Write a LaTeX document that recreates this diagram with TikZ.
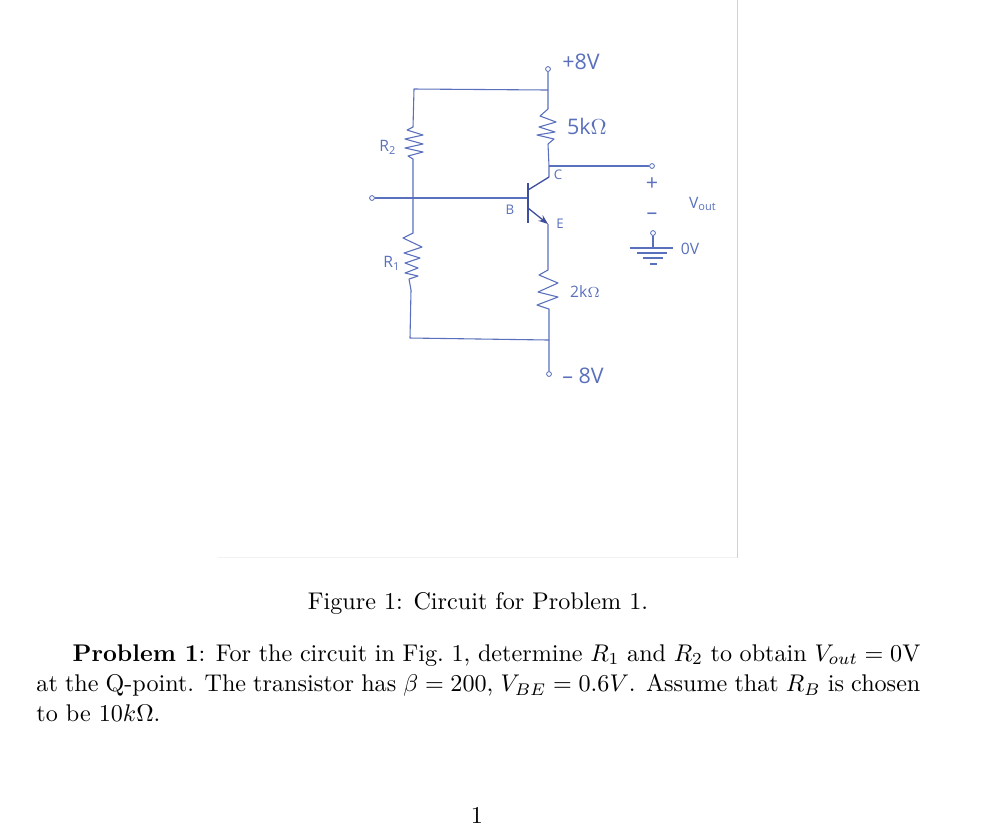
\documentclass[tikz,border=0pt]{standalone}
\usepackage{fontspec}
\newfontfamily\hand{Open Sans}
\usetikzlibrary{arrows.meta}
\definecolor{ink}{HTML}{5A70BC}
\definecolor{inkd}{HTML}{3D4F9E}
\tikzset{
  x=0.4143pt,y=-0.4143pt,
  wire/.style={draw=ink,line width=0.45pt,line join=round},
  dark/.style={draw=inkd,line width=0.55pt},
  term/.style={circle,draw=ink,line width=0.35pt,fill=white,inner sep=0pt,minimum size=2pt},
  hw/.style={text=ink,inner sep=0pt,font=\hand\fontsize{8.9}{10}\selectfont},
  hws/.style={text=ink,inner sep=0pt,font=\hand\fontsize{5.5}{6}\selectfont},
  hwm/.style={text=ink,inner sep=0pt,font=\hand\fontsize{6.5}{7}\selectfont},
  latex text/.style={inner sep=0pt,text=black}
}
\begin{document}
\begin{tikzpicture}
\useasboundingbox (0,0) rectangle (995,825);
% scan edges
\draw[black!18,line width=0.35pt] (737,0) -- (737,558);
\draw[black!5,line width=0.35pt] (218,557) -- (737,557);
% junctions and ends
\node[term] (vcc) at (548,69) {};
\node[term] (bin) at (372,198) {};
\node[term] (out) at (652,166) {};
\node[term] (vee) at (549,374) {};
\node[term] (gnd) at (653,233) {};
\coordinate (top) at (548,90);
\coordinate (topl) at (414,89);
\coordinate (cross) at (413,198);
\coordinate (botl) at (410,338);
\coordinate (bot) at (549,340);
\coordinate (cj) at (549,166);
\coordinate (cb) at (549,177);
\coordinate (bb) at (527,198);
\coordinate (gs) at (653,248);
% 5k
\draw[wire] (vcc) -- (top) -- (548,109) -- (540,116) -- (556,122) -- (539,127) -- (555,132) -- (537,135) -- (554,139) -- (548,144) -- (cj) -- (cb);
% R2
\draw[wire] (top) -- (topl) -- (413,127) -- (407,130) -- (423,135) -- (405,139) -- (423,144) -- (405,148) -- (423,152) -- (408,156) -- (413,159) -- (cross);
\draw[wire] (bin) -- (cross) -- (bb);
% R1
\draw[wire] (cross) -- (413,233) -- (403,238) -- (422,247) -- (404,253) -- (420,258) -- (405,263) -- (418,268) -- (405,273) -- (418,276) -- (409,279) -- (411,290) -- (botl) -- (bot);
% 2k
\draw[wire] (548,224) -- (548,270) -- (539,275) -- (558,283) -- (538,292) -- (558,297) -- (537,305) -- (549,309) -- (bot) -- (vee);
\draw[wire] (cj) -- (out);
% transistor
\draw[dark] (528,183) -- (528,223);
\draw[dark] (528,190) -- (cb);
\draw[dark,-{Stealth[length=4pt,width=3pt]}] (528,208) -- (548,224);
% ground
\draw[wire] (gnd) -- (gs);
\draw[wire] (630,248) -- (673,248);
\draw[wire] (637,253) -- (667,253);
\draw[wire] (643,258) -- (663,258);
\draw[wire] (650,264) -- (657,264);
% hand labels
\node[hw] (lv) at (581,62) {+8V};
\node[hw] (l5) at (587,126) {5k$\Omega$};
\node[hwm] (lr2) at (388,147) {R\textsubscript{2}};
\node[hws] (lc) at (558,175) {C};
\node[hws] (lb) at (510,210) {B};
\node[hws] (le) at (560,224) {E};
\node[hw] (lp) at (652,184) {+};
\node[hw] (lm) at (652,216) {–};
\node[hwm] (lvo) at (703,204) {V\textsubscript{out}};
\node[hwm] (l0) at (690,249) {0V};
\node[hwm] (lr1) at (392,263) {R\textsubscript{1}};
\node[hwm] (l2) at (585,292) {2k$\Omega$};
\node[hw] (lvee) at (583,376) {– 8V};
% text
\node[latex text,anchor=base] (cap) at (478,609) {Figure 1: Circuit for Problem 1.};
\node[latex text,anchor=north west,text width=366.2pt,align=justify] (par) at (36,644) {\baselineskip=12.48pt\hspace*{15pt}\textbf{Problem 1}: For the circuit in Fig.~1, determine $R_1$ and $R_2$ to obtain $V_{out}=0$V at the Q-point. The transistor has $\beta=200$, $V_{BE}=0.6V$. Assume that $R_B$ is chosen to be $10k\Omega$.\par};
\node[latex text,anchor=base] (pg) at (477,823) {1};
\end{tikzpicture}
\end{document}
